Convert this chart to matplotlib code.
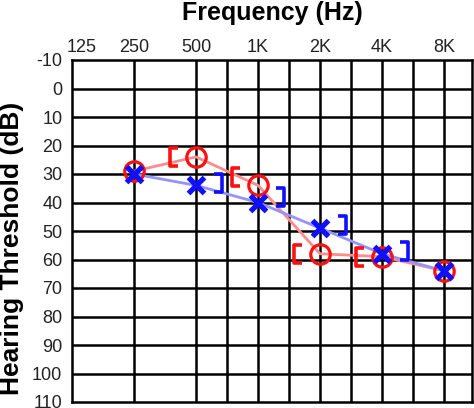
import matplotlib
matplotlib.use("Agg")
import matplotlib.pyplot as plt
import matplotlib.path as mpath
import matplotlib.transforms as mtransforms
import numpy as np

plt.rcParams['font.family'] = ['Liberation Sans', 'DejaVu Sans']
plt.rcParams['axes.unicode_minus'] = False

freq_labels = ["125", "250", "500", "1K", "2K", "4K", "8K"]
db_ticks = list(range(-10, 111, 10))

# air conduction (octave index, dB)
right_x = [1, 2, 3, 4, 5, 6]
right_db = [29, 24, 34, 58, 59, 64]
left_x = [1, 2, 3, 4, 5, 6]
left_db = [30, 34, 40, 49, 58, 64]

# bone conduction
right_bc_x = [2, 3, 4, 5]
right_bc_db = [24, 31, 58, 59]
left_bc_x = [2, 3, 4, 5]
left_bc_db = [33, 38, 48, 57]

RED = "#ff1010"
BLUE = "#1010ff"

fig = plt.figure(figsize=(4.74, 4.08), dpi=100)
ax = fig.add_axes([72 / 474, 1 - 402 / 408, 400 / 474, 342 / 408])

ax.set_xlim(0.04, 6.45)
ax.set_ylim(110, -10)

# grid
for gx in [1, 2, 2.5, 3, 3.5, 4, 4.5, 5, 5.5, 6]:
    ax.axvline(gx, color="black", lw=1.8, zorder=1)
for gy in db_ticks[1:-1]:
    ax.axhline(gy, color="black", lw=1.8, zorder=1)
for s in ax.spines.values():
    s.set_linewidth(1.8)

ax.set_xticks(range(len(freq_labels)), freq_labels)
ax.xaxis.tick_top()
ax.set_yticks(db_ticks)
ax.tick_params(axis="both", length=0, labelsize=13, colors="#222222")
ax.tick_params(axis="x", pad=3)
ax.tick_params(axis="y", pad=7)
shift = mtransforms.ScaledTranslation(10 / 100, 0, fig.dpi_scale_trans)
first = ax.get_xticklabels()[0]
first.set_transform(first.get_transform() + shift)

# lines
ax.plot(right_x, right_db, color="#ff8c8c", lw=2, zorder=2)
ax.plot(left_x, left_db, color="#9494ff", lw=2, zorder=2)

ax.plot(right_x, right_db, ls="none", marker="o", ms=14, mfc="none",
        mec=RED, mew=2.3, zorder=3)
ax.plot(left_x, left_db, ls="none", marker="x", ms=12, mec=BLUE,
        mew=3.8, zorder=4)

# bracket markers for bone conduction
lb = mpath.Path([(0.45, 1), (-0.45, 1), (-0.45, -1), (0.45, -1)])
rb = mpath.Path([(-0.45, 1), (0.45, 1), (0.45, -1), (-0.45, -1)])
off_l = mtransforms.offset_copy(ax.transData, fig=fig, x=-16, y=0, units="points")
off_r = mtransforms.offset_copy(ax.transData, fig=fig, x=16, y=0, units="points")
ax.plot(right_bc_x, right_bc_db, ls="none", marker=lb, ms=13, mfc="none",
        mec=RED, mew=2.6, transform=off_l, zorder=3)
ax.plot(left_bc_x, left_bc_db, ls="none", marker=rb, ms=13, mfc="none",
        mec=BLUE, mew=2.6, transform=off_r, zorder=3)

fig.text(272 / 474, 1 - 13 / 408, "Frequency (Hz)", ha="center", va="center",
         fontsize=18, fontweight="bold")
fig.text(12 / 474, 1 - 248 / 408, "Hearing Threshold (dB)", ha="center",
         va="center", rotation=90, fontsize=19, fontweight="bold")

fig.savefig("out.png", dpi=100)
